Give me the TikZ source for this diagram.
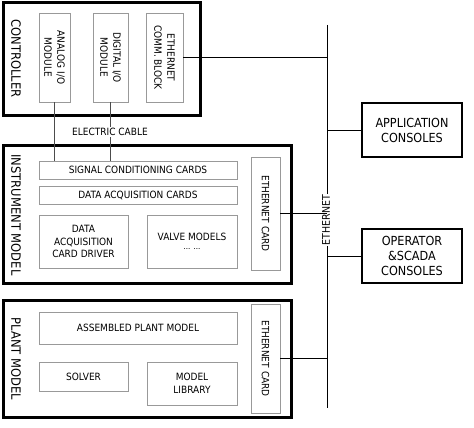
\documentclass[tikz,border=0pt]{standalone}
\usepackage{fontspec}
\setmainfont{DejaVu Sans}[FakeStretch=0.9]
\begin{document}
\begin{tikzpicture}[x=1pt,y=-1pt,
  outerbox/.style={draw=black,line width=3pt,minimum width=#1},
  innerbox/.style={draw=black!40,line width=0.9pt,inner sep=0pt,align=center,font=\fontsize{10}{12.5}\selectfont},
  consolebox/.style={draw=black,line width=2.5pt,inner sep=0pt,align=center,minimum width=100pt,minimum height=54pt,font=\fontsize{12.5}{15}\selectfont},
  biglabel/.style={rotate=-90,font=\fontsize{12.8}{15}\selectfont},
  wire/.style={draw=black,line width=0.9pt},
  cable/.style={draw=black!70,line width=0.8pt}]
\useasboundingbox (0,0) rectangle (474,428);
% controller
\node[draw,line width=3pt,minimum width=197pt,minimum height=112pt,inner sep=0pt] (ctrl) at (101.5,59) {};
\node[innerbox,minimum width=31pt,minimum height=89pt] (analog) at (54.5,57.5) {};
\node[rotate=-90,align=center,font=\fontsize{10}{13}\selectfont] (analogt) at (analog.center) {ANALOG I/O\\MODULE};
\node[innerbox,minimum width=35pt,minimum height=89pt] (digital) at (110.5,57.5) {};
\node[rotate=-90,align=center,font=\fontsize{10}{13}\selectfont] (digitalt) at (digital.center) {DIGITAL I/O\\MODULE};
\node[innerbox,minimum width=37pt,minimum height=89pt] (ethcomm) at (164.5,57.5) {};
\node[rotate=-90,align=center,font=\fontsize{10}{13}\selectfont] (ethcommt) at (ethcomm.center) {ETHERNET\\COMM. BLOCK};
\node[biglabel] (ctrlt) at (16,58.5) {CONTROLLER};
% instrument model
\node[draw,line width=3pt,minimum width=288pt,minimum height=138pt,inner sep=0pt] (instr) at (147,214) {};
\node[innerbox,minimum width=198pt,minimum height=18pt] (sigcond) at (138,170) {SIGNAL CONDITIONING CARDS};
\node[innerbox,minimum width=198pt,minimum height=18pt] (daq) at (138,195) {DATA ACQUISITION CARDS};
\node[innerbox,minimum width=89pt,minimum height=53pt] (driver) at (83.5,241.5) {DATA\\ACQUISITION\\CARD DRIVER};
\node[innerbox,minimum width=90pt,minimum height=53pt] (valve) at (192,241.5) {VALVE MODELS\\[-3pt]{\fontsize{8}{10}\selectfont ... ...}};
\node[innerbox,minimum width=29pt,minimum height=113pt] (ethcard1) at (265.5,213.5) {};
\node[rotate=-90,font=\fontsize{10}{12}\selectfont] (ethcard1t) at (ethcard1.center) {ETHERNET CARD};
\node[biglabel] (instrt) at (16,215) {INSTRUMENT MODEL};
% plant model
\node[draw,line width=3pt,minimum width=288pt,minimum height=117pt,inner sep=0pt] (plant) at (147,358.5) {};
\node[innerbox,minimum width=198pt,minimum height=32pt] (assembled) at (138,328) {ASSEMBLED PLANT MODEL};
\node[innerbox,minimum width=89pt,minimum height=29pt] (solver) at (83.5,376.5) {SOLVER};
\node[innerbox,minimum width=90pt,minimum height=43pt] (library) at (192,383.5) {MODEL\\LIBRARY};
\node[innerbox,minimum width=29pt,minimum height=109pt] (ethcard2) at (265.5,358.5) {};
\node[rotate=-90,font=\fontsize{10}{12}\selectfont] (ethcard2t) at (ethcard2.center) {ETHERNET CARD};
\node[biglabel] (plantt) at (16,359) {PLANT MODEL};
% consoles
\node[consolebox] (app) at (412,130) {APPLICATION\\CONSOLES};
\node[consolebox] (op) at (412,256) {OPERATOR\\\&SCADA\\CONSOLES};
% bus
\coordinate (bustop) at (327,25);
\coordinate (busbot) at (327,408);
\draw[wire] (bustop) -- (busbot);
\node[rotate=90,fill=white,inner sep=1pt,font=\fontsize{10.5}{12}\selectfont] (ethlabel) at (326,220) {ETHERNET};
% connections
\draw[wire] (ethcomm.east) -- (ethcomm.east -| bustop);
\draw[wire] (ethcard1.east) -- (ethcard1.east -| bustop);
\draw[wire] (ethcard2.east) -- (ethcard2.east -| bustop);
\draw[wire] (app.west -| bustop) -- (app.west);
\draw[wire] (op.west -| bustop) -- (op.west);
\draw[cable] (analog.south) -- (analog.south |- sigcond.north);
\draw[cable] (digital.south) -- (digital.south |- sigcond.north);
\node[fill=white,inner sep=1pt,font=\fontsize{10}{12}\selectfont] (cablet) at (110,132) {ELECTRIC CABLE};
\end{tikzpicture}
\end{document}
